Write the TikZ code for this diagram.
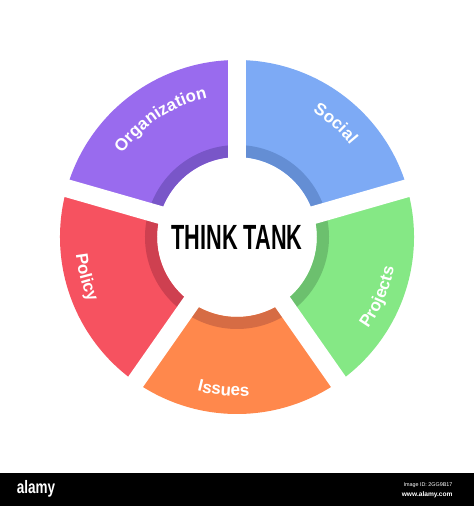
\documentclass[tikz,border=0pt]{standalone}
\usepackage{fontspec}
\setmainfont{Liberation Sans}
\usepackage{graphicx}
\usetikzlibrary{decorations.text}
\definecolor{ttpurple}{RGB}{153,107,238}
\definecolor{ttpurpledark}{RGB}{121,86,200}
\definecolor{ttblue}{RGB}{125,170,245}
\definecolor{ttbluedark}{RGB}{100,142,212}
\definecolor{ttgreen}{RGB}{133,232,133}
\definecolor{ttgreendark}{RGB}{108,192,110}
\definecolor{ttorange}{RGB}{255,136,76}
\definecolor{ttorangedark}{RGB}{214,108,68}
\definecolor{ttred}{RGB}{246,82,96}
\definecolor{ttreddark}{RGB}{206,64,80}
\tikzset{
  seglabel/.style={decorate,decoration={text along path,text align=center,text color=white,
    text={|\bfseries\fontsize{17}{17}\selectfont|#1}}},
  gapline/.style={white,line width=18pt}
}

\begin{document}
\begin{tikzpicture}[x=1pt,y=1pt]
\useasboundingbox (-237,-269) rectangle (237,237);
\fill[white] (-237,-269) rectangle (237,237);

% Organization
\fill[ttpurple] (90:80pt) arc[start angle=90,end angle=164,radius=80pt] -- (164:177pt) arc[start angle=164,end angle=90,radius=177pt] -- cycle;
\fill[ttpurpledark] (90:80pt) arc[start angle=90,end angle=164,radius=80pt] -- (164:92pt) arc[start angle=164,end angle=90,radius=92pt] -- cycle;

% Social
\fill[ttblue] (16:80pt) arc[start angle=16,end angle=90,radius=80pt] -- (90:177pt) arc[start angle=90,end angle=16,radius=177pt] -- cycle;
\fill[ttbluedark] (16:80pt) arc[start angle=16,end angle=90,radius=80pt] -- (90:92pt) arc[start angle=90,end angle=16,radius=92pt] -- cycle;

% Projects
\fill[ttgreen] (-55:80pt) arc[start angle=-55,end angle=16,radius=80pt] -- (16:177pt) arc[start angle=16,end angle=-55,radius=177pt] -- cycle;
\fill[ttgreendark] (-55:80pt) arc[start angle=-55,end angle=16,radius=80pt] -- (16:92pt) arc[start angle=16,end angle=-55,radius=92pt] -- cycle;

% Issues
\fill[ttorange] (-125:80pt) arc[start angle=-125,end angle=-55,radius=80pt] -- (-55:177pt) arc[start angle=-55,end angle=-125,radius=177pt] -- cycle;
\fill[ttorangedark] (-125:80pt) arc[start angle=-125,end angle=-55,radius=80pt] -- (-55:92pt) arc[start angle=-55,end angle=-125,radius=92pt] -- cycle;

% Policy
\fill[ttred] (164:80pt) arc[start angle=164,end angle=235,radius=80pt] -- (235:177pt) arc[start angle=235,end angle=164,radius=177pt] -- cycle;
\fill[ttreddark] (164:80pt) arc[start angle=164,end angle=235,radius=80pt] -- (235:92pt) arc[start angle=235,end angle=164,radius=92pt] -- cycle;

% White gaps between the segments
\draw[gapline] (0,0) -- (90:190pt);
\draw[gapline] (0,0) -- (16:190pt);
\draw[gapline] (0,0) -- (-55:190pt);
\draw[gapline] (0,0) -- (-125:190pt);
\draw[gapline] (0,0) -- (164:190pt);

% Segment labels
\path[seglabel=Organization] (153:142pt) arc[start angle=153,end angle=93,radius=142pt];
\path[seglabel=Social] (79:146pt) arc[start angle=79,end angle=19,radius=146pt];
\path[seglabel=Projects] (-53:160pt) arc[start angle=-53,end angle=7,radius=160pt];
\path[seglabel=Issues] (-125:159pt) arc[start angle=-125,end angle=-65,radius=159pt];
\path[seglabel=Policy] (165:162pt) arc[start angle=165,end angle=225,radius=162pt];

% Centre title
\node (title) at (0,0) {\scalebox{0.62}[1]{\fontsize{35}{35}\selectfont\bfseries THINK TANK}};

% Bottom bar
\fill[black] (-237,-269) rectangle (237,-236);
\node[white,font=\bfseries\fontsize{18}{18}\selectfont] (alamylogo) at (-201,-252) {\scalebox{0.75}[1]{alamy}};
\node[white,anchor=east,font=\fontsize{5.4}{6}\selectfont] (imageid) at (219,-248) {Image ID: 2GG9B17};
\node[white,anchor=east,font=\bfseries\fontsize{6.6}{7}\selectfont] (alamyurl) at (219,-258) {www.alamy.com};
\end{tikzpicture}
\end{document}
